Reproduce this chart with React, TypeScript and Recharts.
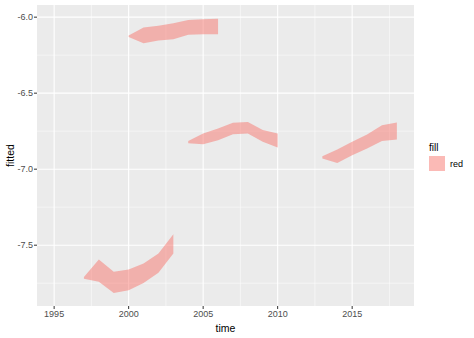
import React from 'react';
import { AreaChart, Area, XAxis, YAxis, CartesianGrid } from 'recharts';

// Ribbon segments: years, lower bound, upper bound
const segAYears = [1997, 1998, 1999, 2000, 2001, 2002, 2003];
const segALower = [-7.72, -7.741, -7.814, -7.796, -7.748, -7.682, -7.555];
const segAUpper = [-7.71, -7.594, -7.675, -7.66, -7.62, -7.555, -7.428];

const segBYears = [2000, 2001, 2002, 2003, 2004, 2005, 2006];
const segBLower = [-6.13, -6.171, -6.154, -6.145, -6.116, -6.112, -6.112];
const segBUpper = [-6.12, -6.068, -6.057, -6.04, -6.018, -6.013, -6.01];

const segCYears = [2004, 2005, 2006, 2007, 2008, 2009, 2010];
const segCLower = [-6.83, -6.836, -6.809, -6.77, -6.765, -6.82, -6.857];
const segCUpper = [-6.815, -6.765, -6.732, -6.695, -6.689, -6.743, -6.765];

const segDYears = [2013, 2014, 2015, 2016, 2017, 2018];
const segDLower = [-6.93, -6.959, -6.908, -6.864, -6.814, -6.805];
const segDUpper = [-6.915, -6.871, -6.82, -6.772, -6.711, -6.693];

const xTicks = [1995, 2000, 2005, 2010, 2015];
const xMinor = [1997.5, 2002.5, 2007.5, 2012.5, 2017.5];
const yTicks = [-7.5, -7.0, -6.5, -6.0];
const yMinor = [-7.75, -7.25, -6.75, -6.25];

const segments = [
  { key: 's0', years: segAYears, lower: segALower, upper: segAUpper },
  { key: 's1', years: segBYears, lower: segBLower, upper: segBUpper },
  { key: 's2', years: segCYears, lower: segCLower, upper: segCUpper },
  { key: 's3', years: segDYears, lower: segDLower, upper: segDUpper },
];

const allYears = Array.from(
  new Set([...segAYears, ...segBYears, ...segCYears, ...segDYears])
).sort((a, b) => a - b);

const data = allYears.map((t) => {
  const row: any = { time: t };
  segments.forEach((s) => {
    const i = s.years.indexOf(t);
    row[s.key] = i >= 0 ? [s.lower[i], s.upper[i]] : null;
  });
  return row;
});

const FONT = '"Liberation Sans", Arial, sans-serif';
const RIBBON = '#F8766D';

export default function App() {
  return (
    <div style={{ position: 'absolute', left: 0, top: 0, width: 474, height: 338, background: '#fff', fontFamily: FONT }}>
      <AreaChart
        width={474}
        height={338}
        data={data}
        margin={{ top: 5, right: 60, bottom: 0, left: 0 }}
      >
        <CartesianGrid
          fill="#EBEBEB"
          stroke="#FFFFFF"
          strokeWidth={0.5}
          horizontalValues={yMinor}
          verticalValues={xMinor}
        />
        <CartesianGrid
          fill="none"
          stroke="#FFFFFF"
          strokeWidth={1.1}
          horizontalValues={yTicks}
          verticalValues={xTicks}
        />
        <XAxis
          dataKey="time"
          type="number"
          domain={[1993.85, 2019.15]}
          allowDataOverflow
          ticks={xTicks}
          height={32}
          tickSize={3}
          tickMargin={2}
          axisLine={false}
          tickLine={{ stroke: '#333333' }}
          tick={{ fill: '#4D4D4D', fontSize: 9, fontFamily: FONT }}
          label={{
            content: (props: any) => {
              const vb = props.viewBox || {};
              return (
                <text
                  x={vb.x + vb.width / 2}
                  y={vb.y + 23}
                  textAnchor="middle"
                  dominantBaseline="middle"
                  fontSize={10.5}
                  fontFamily={FONT}
                  fill="#000"
                >
                  time
                </text>
              );
            },
          }}
        />
        <YAxis
          type="number"
          domain={[-7.9, -5.92]}
          allowDataOverflow
          ticks={yTicks}
          tickFormatter={(v: number) => v.toFixed(1)}
          width={37}
          tickSize={3}
          tickMargin={1}
          axisLine={false}
          tickLine={{ stroke: '#333333' }}
          tick={{ fill: '#4D4D4D', fontSize: 9, fontFamily: FONT }}
          label={{
            content: (props: any) => {
              const vb = props.viewBox || {};
              const cx = 11.5;
              const cy = vb.y + vb.height / 2;
              return (
                <text
                  x={cx}
                  y={cy}
                  transform={`rotate(-90, ${cx}, ${cy})`}
                  textAnchor="middle"
                  dominantBaseline="middle"
                  fontSize={10.5}
                  fontFamily={FONT}
                  fill="#000"
                >
                  fitted
                </text>
              );
            },
          }}
        />
        {segments.map((s) => (
          <Area
            key={s.key}
            dataKey={s.key}
            type="linear"
            stroke="none"
            fill={RIBBON}
            fillOpacity={0.5}
            connectNulls={false}
            isAnimationActive={false}
            dot={false}
            activeDot={false}
          />
        ))}
      </AreaChart>
      <div style={{ position: 'absolute', left: 429, top: 142, fontFamily: FONT }}>
        <div style={{ fontSize: 10, color: '#000', lineHeight: '12px' }}>fill</div>
        <div style={{ display: 'flex', alignItems: 'center', marginTop: 2 }}>
          <div style={{ width: 16, height: 15, background: RIBBON, opacity: 0.5 }} />
          <div style={{ fontSize: 9, color: '#000', marginLeft: 5 }}>red</div>
        </div>
      </div>
    </div>
  );
}
